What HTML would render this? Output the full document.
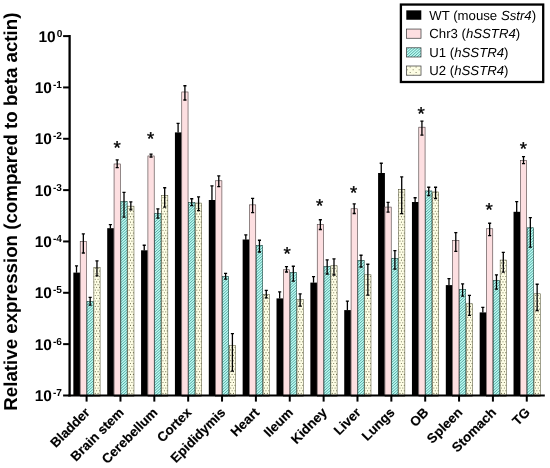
<!DOCTYPE html>
<html><head><meta charset="utf-8"><title>Relative expression</title>
<style>
html,body{margin:0;padding:0;background:#fff;}
body{width:550px;height:468px;overflow:hidden;}
svg{display:block;}
text{font-family:"Liberation Sans",Arial,Helvetica,sans-serif;fill:#000;text-rendering:geometricPrecision;}
.b{font-weight:bold;}
.i{font-style:italic;}
</style></head><body>
<svg width="550" height="468" viewBox="0 0 550 468">
<defs>
<clipPath id="ct"><rect x="406.60" y="47.80" width="14.40" height="9.20"/><rect x="86.74" y="301.30" width="6.82" height="94.70"/><rect x="120.60" y="201.20" width="6.82" height="194.80"/><rect x="154.46" y="213.30" width="6.82" height="182.70"/><rect x="188.32" y="202.20" width="6.82" height="193.80"/><rect x="222.18" y="276.20" width="6.82" height="119.80"/><rect x="256.04" y="245.10" width="6.82" height="150.90"/><rect x="289.90" y="272.10" width="6.82" height="123.90"/><rect x="323.76" y="266.10" width="6.82" height="129.90"/><rect x="357.62" y="260.10" width="6.82" height="135.90"/><rect x="391.48" y="258.10" width="6.82" height="137.90"/><rect x="425.34" y="190.70" width="6.82" height="205.30"/><rect x="459.20" y="289.20" width="6.82" height="106.80"/><rect x="493.06" y="280.20" width="6.82" height="115.80"/><rect x="526.92" y="227.50" width="6.82" height="168.50"/></clipPath>
<clipPath id="cy"><rect x="406.60" y="66.00" width="14.40" height="9.20"/><rect x="93.56" y="267.20" width="6.82" height="128.80"/><rect x="127.42" y="205.90" width="6.82" height="190.10"/><rect x="161.28" y="195.20" width="6.82" height="200.80"/><rect x="195.14" y="202.80" width="6.82" height="193.20"/><rect x="229.00" y="345.20" width="6.82" height="50.80"/><rect x="262.86" y="294.30" width="6.82" height="101.70"/><rect x="296.72" y="299.20" width="6.82" height="96.80"/><rect x="330.58" y="265.50" width="6.82" height="130.50"/><rect x="364.44" y="274.50" width="6.82" height="121.50"/><rect x="398.30" y="189.10" width="6.82" height="206.90"/><rect x="432.16" y="191.70" width="6.82" height="204.30"/><rect x="466.02" y="303.50" width="6.82" height="92.50"/><rect x="499.88" y="259.80" width="6.82" height="136.20"/><rect x="533.74" y="293.50" width="6.82" height="102.50"/></clipPath>
</defs>
<rect width="550" height="468" fill="#fff"/>
<rect x="400.9" y="4.55" width="142.3" height="77.45" fill="#fff" stroke="#000" stroke-width="2.3"/>
<rect x="406.3" y="10.35" width="15" height="9.4" fill="#000"/>
<text x="429.3" y="20.30" font-size="13.2">WT (mouse <tspan class="i">Sstr4</tspan>)</text>
<rect x="406.6" y="29.05" width="14.4" height="9.2" fill="#fddfe1"/>
<text x="429.3" y="38.20" font-size="13.2">Chr3 (<tspan class="i">hSSTR4</tspan>)</text>
<rect x="406.6" y="47.80" width="14.4" height="9.2" fill="#bbfaf4"/>
<text x="429.3" y="56.60" font-size="13.2">U1 (<tspan class="i">hSSTR4</tspan>)</text>
<rect x="406.6" y="66.00" width="14.4" height="9.2" fill="#fdfde4"/>
<text x="429.3" y="75.20" font-size="13.2">U2 (<tspan class="i">hSSTR4</tspan>)</text>
<g>
<rect x="73.35" y="272.60" width="6.82" height="123.20" fill="#000"/>
<rect x="79.92" y="241.10" width="6.82" height="154.90" fill="#fddfe1"/>
<rect x="86.74" y="301.30" width="6.82" height="94.70" fill="#bbfaf4"/>
<rect x="93.56" y="267.20" width="6.82" height="128.80" fill="#fdfde4"/>
<rect x="107.21" y="228.20" width="6.82" height="167.60" fill="#000"/>
<rect x="113.78" y="163.70" width="6.82" height="232.30" fill="#fddfe1"/>
<rect x="120.60" y="201.20" width="6.82" height="194.80" fill="#bbfaf4"/>
<rect x="127.42" y="205.90" width="6.82" height="190.10" fill="#fdfde4"/>
<rect x="141.07" y="250.30" width="6.82" height="145.50" fill="#000"/>
<rect x="147.64" y="155.70" width="6.82" height="240.30" fill="#fddfe1"/>
<rect x="154.46" y="213.30" width="6.82" height="182.70" fill="#bbfaf4"/>
<rect x="161.28" y="195.20" width="6.82" height="200.80" fill="#fdfde4"/>
<rect x="174.93" y="132.40" width="6.82" height="263.40" fill="#000"/>
<rect x="181.50" y="91.70" width="6.82" height="304.30" fill="#fddfe1"/>
<rect x="188.32" y="202.20" width="6.82" height="193.80" fill="#bbfaf4"/>
<rect x="195.14" y="202.80" width="6.82" height="193.20" fill="#fdfde4"/>
<rect x="208.79" y="200.00" width="6.82" height="195.80" fill="#000"/>
<rect x="215.36" y="180.50" width="6.82" height="215.50" fill="#fddfe1"/>
<rect x="222.18" y="276.20" width="6.82" height="119.80" fill="#bbfaf4"/>
<rect x="229.00" y="345.20" width="6.82" height="50.80" fill="#fdfde4"/>
<rect x="242.65" y="239.50" width="6.82" height="156.30" fill="#000"/>
<rect x="249.22" y="204.60" width="6.82" height="191.40" fill="#fddfe1"/>
<rect x="256.04" y="245.10" width="6.82" height="150.90" fill="#bbfaf4"/>
<rect x="262.86" y="294.30" width="6.82" height="101.70" fill="#fdfde4"/>
<rect x="276.51" y="298.40" width="6.82" height="97.40" fill="#000"/>
<rect x="283.08" y="269.50" width="6.82" height="126.50" fill="#fddfe1"/>
<rect x="289.90" y="272.10" width="6.82" height="123.90" fill="#bbfaf4"/>
<rect x="296.72" y="299.20" width="6.82" height="96.80" fill="#fdfde4"/>
<rect x="310.37" y="282.60" width="6.82" height="113.20" fill="#000"/>
<rect x="316.94" y="224.20" width="6.82" height="171.80" fill="#fddfe1"/>
<rect x="323.76" y="266.10" width="6.82" height="129.90" fill="#bbfaf4"/>
<rect x="330.58" y="265.50" width="6.82" height="130.50" fill="#fdfde4"/>
<rect x="344.23" y="310.10" width="6.82" height="85.70" fill="#000"/>
<rect x="350.80" y="208.50" width="6.82" height="187.50" fill="#fddfe1"/>
<rect x="357.62" y="260.10" width="6.82" height="135.90" fill="#bbfaf4"/>
<rect x="364.44" y="274.50" width="6.82" height="121.50" fill="#fdfde4"/>
<rect x="378.09" y="173.00" width="6.82" height="222.80" fill="#000"/>
<rect x="384.66" y="206.80" width="6.82" height="189.20" fill="#fddfe1"/>
<rect x="391.48" y="258.10" width="6.82" height="137.90" fill="#bbfaf4"/>
<rect x="398.30" y="189.10" width="6.82" height="206.90" fill="#fdfde4"/>
<rect x="411.95" y="202.00" width="6.82" height="193.80" fill="#000"/>
<rect x="418.52" y="126.90" width="6.82" height="269.10" fill="#fddfe1"/>
<rect x="425.34" y="190.70" width="6.82" height="205.30" fill="#bbfaf4"/>
<rect x="432.16" y="191.70" width="6.82" height="204.30" fill="#fdfde4"/>
<rect x="445.81" y="285.10" width="6.82" height="110.70" fill="#000"/>
<rect x="452.38" y="240.00" width="6.82" height="156.00" fill="#fddfe1"/>
<rect x="459.20" y="289.20" width="6.82" height="106.80" fill="#bbfaf4"/>
<rect x="466.02" y="303.50" width="6.82" height="92.50" fill="#fdfde4"/>
<rect x="479.67" y="312.40" width="6.82" height="83.40" fill="#000"/>
<rect x="486.24" y="228.50" width="6.82" height="167.50" fill="#fddfe1"/>
<rect x="493.06" y="280.20" width="6.82" height="115.80" fill="#bbfaf4"/>
<rect x="499.88" y="259.80" width="6.82" height="136.20" fill="#fdfde4"/>
<rect x="513.53" y="211.80" width="6.82" height="184.00" fill="#000"/>
<rect x="520.10" y="160.10" width="6.82" height="235.90" fill="#fddfe1"/>
<rect x="526.92" y="227.50" width="6.82" height="168.50" fill="#bbfaf4"/>
<rect x="533.74" y="293.50" width="6.82" height="102.50" fill="#fdfde4"/>
</g>
<path clip-path="url(#ct)" d="M60 0.1L550 -440.9M60 2.8L550 -438.2M60 5.5L550 -435.5M60 8.2L550 -432.8M60 11.0L550 -430.0M60 13.7L550 -427.3M60 16.4L550 -424.6M60 19.1L550 -421.9M60 21.8L550 -419.2M60 24.6L550 -416.4M60 27.3L550 -413.7M60 30.0L550 -411.0M60 32.7L550 -408.3M60 35.4L550 -405.6M60 38.2L550 -402.8M60 40.9L550 -400.1M60 43.6L550 -397.4M60 46.3L550 -394.7M60 49.0L550 -392.0M60 51.8L550 -389.2M60 54.5L550 -386.5M60 57.2L550 -383.8M60 59.9L550 -381.1M60 62.6L550 -378.4M60 65.4L550 -375.6M60 68.1L550 -372.9M60 70.8L550 -370.2M60 73.5L550 -367.5M60 76.2L550 -364.8M60 79.0L550 -362.0M60 81.7L550 -359.3M60 84.4L550 -356.6M60 87.1L550 -353.9M60 89.8L550 -351.2M60 92.6L550 -348.4M60 95.3L550 -345.7M60 98.0L550 -343.0M60 100.7L550 -340.3M60 103.4L550 -337.6M60 106.2L550 -334.8M60 108.9L550 -332.1M60 111.6L550 -329.4M60 114.3L550 -326.7M60 117.0L550 -324.0M60 119.8L550 -321.2M60 122.5L550 -318.5M60 125.2L550 -315.8M60 127.9L550 -313.1M60 130.6L550 -310.4M60 133.4L550 -307.6M60 136.1L550 -304.9M60 138.8L550 -302.2M60 141.5L550 -299.5M60 144.2L550 -296.8M60 147.0L550 -294.0M60 149.7L550 -291.3M60 152.4L550 -288.6M60 155.1L550 -285.9M60 157.8L550 -283.2M60 160.6L550 -280.4M60 163.3L550 -277.7M60 166.0L550 -275.0M60 168.7L550 -272.3M60 171.4L550 -269.6M60 174.2L550 -266.8M60 176.9L550 -264.1M60 179.6L550 -261.4M60 182.3L550 -258.7M60 185.0L550 -256.0M60 187.8L550 -253.2M60 190.5L550 -250.5M60 193.2L550 -247.8M60 195.9L550 -245.1M60 198.6L550 -242.4M60 201.4L550 -239.6M60 204.1L550 -236.9M60 206.8L550 -234.2M60 209.5L550 -231.5M60 212.2L550 -228.8M60 215.0L550 -226.0M60 217.7L550 -223.3M60 220.4L550 -220.6M60 223.1L550 -217.9M60 225.8L550 -215.2M60 228.6L550 -212.4M60 231.3L550 -209.7M60 234.0L550 -207.0M60 236.7L550 -204.3M60 239.4L550 -201.6M60 242.2L550 -198.8M60 244.9L550 -196.1M60 247.6L550 -193.4M60 250.3L550 -190.7M60 253.0L550 -188.0M60 255.8L550 -185.2M60 258.5L550 -182.5M60 261.2L550 -179.8M60 263.9L550 -177.1M60 266.6L550 -174.4M60 269.4L550 -171.6M60 272.1L550 -168.9M60 274.8L550 -166.2M60 277.5L550 -163.5M60 280.2L550 -160.8M60 283.0L550 -158.0M60 285.7L550 -155.3M60 288.4L550 -152.6M60 291.1L550 -149.9M60 293.8L550 -147.2M60 296.6L550 -144.4M60 299.3L550 -141.7M60 302.0L550 -139.0M60 304.7L550 -136.3M60 307.4L550 -133.6M60 310.2L550 -130.8M60 312.9L550 -128.1M60 315.6L550 -125.4M60 318.3L550 -122.7M60 321.0L550 -120.0M60 323.8L550 -117.2M60 326.5L550 -114.5M60 329.2L550 -111.8M60 331.9L550 -109.1M60 334.6L550 -106.4M60 337.4L550 -103.6M60 340.1L550 -100.9M60 342.8L550 -98.2M60 345.5L550 -95.5M60 348.2L550 -92.8M60 351.0L550 -90.0M60 353.7L550 -87.3M60 356.4L550 -84.6M60 359.1L550 -81.9M60 361.8L550 -79.2M60 364.6L550 -76.4M60 367.3L550 -73.7M60 370.0L550 -71.0M60 372.7L550 -68.3M60 375.4L550 -65.6M60 378.2L550 -62.8M60 380.9L550 -60.1M60 383.6L550 -57.4M60 386.3L550 -54.7M60 389.0L550 -52.0M60 391.8L550 -49.2M60 394.5L550 -46.5M60 397.2L550 -43.8M60 399.9L550 -41.1M60 402.6L550 -38.4M60 405.4L550 -35.6M60 408.1L550 -32.9M60 410.8L550 -30.2M60 413.5L550 -27.5M60 416.2L550 -24.8M60 419.0L550 -22.0M60 421.7L550 -19.3M60 424.4L550 -16.6M60 427.1L550 -13.9M60 429.8L550 -11.2M60 432.6L550 -8.4M60 435.3L550 -5.7M60 438.0L550 -3.0M60 440.7L550 -0.3M60 443.4L550 2.4M60 446.2L550 5.2M60 448.9L550 7.9M60 451.6L550 10.6M60 454.3L550 13.3M60 457.0L550 16.0M60 459.8L550 18.8M60 462.5L550 21.5M60 465.2L550 24.2M60 467.9L550 26.9M60 470.6L550 29.6M60 473.4L550 32.4M60 476.1L550 35.1M60 478.8L550 37.8M60 481.5L550 40.5M60 484.2L550 43.2M60 487.0L550 46.0M60 489.7L550 48.7M60 492.4L550 51.4M60 495.1L550 54.1M60 497.8L550 56.8M60 500.6L550 59.6M60 503.3L550 62.3M60 506.0L550 65.0M60 508.7L550 67.7M60 511.4L550 70.4M60 514.2L550 73.2M60 516.9L550 75.9M60 519.6L550 78.6M60 522.3L550 81.3M60 525.0L550 84.0M60 527.8L550 86.8M60 530.5L550 89.5M60 533.2L550 92.2M60 535.9L550 94.9M60 538.6L550 97.6M60 541.4L550 100.4M60 544.1L550 103.1M60 546.8L550 105.8M60 549.5L550 108.5M60 552.2L550 111.2M60 555.0L550 114.0M60 557.7L550 116.7M60 560.4L550 119.4M60 563.1L550 122.1M60 565.8L550 124.8M60 568.6L550 127.6M60 571.3L550 130.3M60 574.0L550 133.0M60 576.7L550 135.7M60 579.4L550 138.4M60 582.2L550 141.2M60 584.9L550 143.9M60 587.6L550 146.6M60 590.3L550 149.3M60 593.0L550 152.0M60 595.8L550 154.8M60 598.5L550 157.5M60 601.2L550 160.2M60 603.9L550 162.9M60 606.6L550 165.6M60 609.4L550 168.4M60 612.1L550 171.1M60 614.8L550 173.8M60 617.5L550 176.5M60 620.2L550 179.2M60 623.0L550 182.0M60 625.7L550 184.7M60 628.4L550 187.4M60 631.1L550 190.1M60 633.8L550 192.8M60 636.6L550 195.6M60 639.3L550 198.3M60 642.0L550 201.0M60 644.7L550 203.7M60 647.4L550 206.4M60 650.2L550 209.2M60 652.9L550 211.9M60 655.6L550 214.6M60 658.3L550 217.3M60 661.0L550 220.0M60 663.8L550 222.8M60 666.5L550 225.5M60 669.2L550 228.2M60 671.9L550 230.9M60 674.6L550 233.6M60 677.4L550 236.4M60 680.1L550 239.1M60 682.8L550 241.8M60 685.5L550 244.5M60 688.2L550 247.2M60 691.0L550 250.0M60 693.7L550 252.7M60 696.4L550 255.4M60 699.1L550 258.1M60 701.8L550 260.8M60 704.6L550 263.6M60 707.3L550 266.3M60 710.0L550 269.0M60 712.7L550 271.7M60 715.4L550 274.4M60 718.2L550 277.2M60 720.9L550 279.9M60 723.6L550 282.6M60 726.3L550 285.3M60 729.0L550 288.0M60 731.8L550 290.8M60 734.5L550 293.5M60 737.2L550 296.2M60 739.9L550 298.9M60 742.6L550 301.6M60 745.4L550 304.4M60 748.1L550 307.1M60 750.8L550 309.8M60 753.5L550 312.5M60 756.2L550 315.2M60 759.0L550 318.0M60 761.7L550 320.7M60 764.4L550 323.4M60 767.1L550 326.1M60 769.8L550 328.8M60 772.6L550 331.6M60 775.3L550 334.3M60 778.0L550 337.0M60 780.7L550 339.7M60 783.4L550 342.4M60 786.2L550 345.2M60 788.9L550 347.9M60 791.6L550 350.6M60 794.3L550 353.3M60 797.0L550 356.0M60 799.8L550 358.8M60 802.5L550 361.5M60 805.2L550 364.2M60 807.9L550 366.9M60 810.6L550 369.6M60 813.4L550 372.4M60 816.1L550 375.1M60 818.8L550 377.8M60 821.5L550 380.5M60 824.2L550 383.2M60 827.0L550 386.0M60 829.7L550 388.7M60 832.4L550 391.4M60 835.1L550 394.1M60 837.8L550 396.8M60 840.6L550 399.6" stroke="#3f978b" stroke-width="0.8" fill="none"/>
<g clip-path="url(#cy)" stroke="#6e6e50" stroke-width="1.12" stroke-linecap="round" stroke-dasharray="0.01 5.43" fill="none">
<path d="M407.23 64.31V81.2"/>
<path d="M413.15 64.31V81.2"/>
<path d="M419.16 64.31V81.2"/>
<path d="M410.19 67.03V81.2"/>
<path d="M416.10 67.03V81.2"/>
<path d="M93.86 265.59V402.0"/>
<path d="M96.66 265.59V402.0"/>
<path d="M99.51 265.59V402.0"/>
<path d="M95.26 268.31V402.0"/>
<path d="M98.06 268.31V402.0"/>
<path d="M127.72 205.75V402.0"/>
<path d="M130.52 205.75V402.0"/>
<path d="M133.37 205.75V402.0"/>
<path d="M129.12 208.47V402.0"/>
<path d="M131.92 208.47V402.0"/>
<path d="M161.58 194.87V402.0"/>
<path d="M164.38 194.87V402.0"/>
<path d="M167.23 194.87V402.0"/>
<path d="M162.98 197.59V402.0"/>
<path d="M165.78 197.59V402.0"/>
<path d="M195.44 200.31V402.0"/>
<path d="M198.24 200.31V402.0"/>
<path d="M201.09 200.31V402.0"/>
<path d="M196.84 203.03V402.0"/>
<path d="M199.64 203.03V402.0"/>
<path d="M229.30 341.75V402.0"/>
<path d="M232.10 341.75V402.0"/>
<path d="M234.95 341.75V402.0"/>
<path d="M230.70 344.47V402.0"/>
<path d="M233.50 344.47V402.0"/>
<path d="M263.16 292.79V402.0"/>
<path d="M265.96 292.79V402.0"/>
<path d="M268.81 292.79V402.0"/>
<path d="M264.56 295.51V402.0"/>
<path d="M267.36 295.51V402.0"/>
<path d="M297.02 298.23V402.0"/>
<path d="M299.82 298.23V402.0"/>
<path d="M302.67 298.23V402.0"/>
<path d="M298.42 300.95V402.0"/>
<path d="M301.22 300.95V402.0"/>
<path d="M330.88 260.15V402.0"/>
<path d="M333.68 260.15V402.0"/>
<path d="M336.53 260.15V402.0"/>
<path d="M332.28 262.87V402.0"/>
<path d="M335.08 262.87V402.0"/>
<path d="M364.74 271.03V402.0"/>
<path d="M367.54 271.03V402.0"/>
<path d="M370.39 271.03V402.0"/>
<path d="M366.14 273.75V402.0"/>
<path d="M368.94 273.75V402.0"/>
<path d="M398.60 183.99V402.0"/>
<path d="M401.40 183.99V402.0"/>
<path d="M404.25 183.99V402.0"/>
<path d="M400.00 186.71V402.0"/>
<path d="M402.80 186.71V402.0"/>
<path d="M432.46 189.43V402.0"/>
<path d="M435.26 189.43V402.0"/>
<path d="M438.11 189.43V402.0"/>
<path d="M433.86 192.15V402.0"/>
<path d="M436.66 192.15V402.0"/>
<path d="M466.32 298.23V402.0"/>
<path d="M469.12 298.23V402.0"/>
<path d="M471.97 298.23V402.0"/>
<path d="M467.72 300.95V402.0"/>
<path d="M470.52 300.95V402.0"/>
<path d="M500.18 254.71V402.0"/>
<path d="M502.98 254.71V402.0"/>
<path d="M505.83 254.71V402.0"/>
<path d="M501.58 257.43V402.0"/>
<path d="M504.38 257.43V402.0"/>
<path d="M534.04 292.79V402.0"/>
<path d="M536.84 292.79V402.0"/>
<path d="M539.69 292.79V402.0"/>
<path d="M535.44 295.51V402.0"/>
<path d="M538.24 295.51V402.0"/>
</g>
<g fill="none" stroke-width="0.55">
<rect x="80.20" y="241.38" width="6.26" height="154.90" stroke="#3a3636"/>
<rect x="87.02" y="301.58" width="6.26" height="94.70" stroke="#1f3a36"/>
<rect x="93.84" y="267.48" width="6.26" height="128.80" stroke="#55553f"/>
<rect x="114.06" y="163.98" width="6.26" height="232.30" stroke="#3a3636"/>
<rect x="120.88" y="201.48" width="6.26" height="194.80" stroke="#1f3a36"/>
<rect x="127.70" y="206.18" width="6.26" height="190.10" stroke="#55553f"/>
<rect x="147.92" y="155.98" width="6.26" height="240.30" stroke="#3a3636"/>
<rect x="154.74" y="213.58" width="6.26" height="182.70" stroke="#1f3a36"/>
<rect x="161.56" y="195.48" width="6.26" height="200.80" stroke="#55553f"/>
<rect x="181.78" y="91.98" width="6.26" height="304.30" stroke="#3a3636"/>
<rect x="188.60" y="202.48" width="6.26" height="193.80" stroke="#1f3a36"/>
<rect x="195.42" y="203.08" width="6.26" height="193.20" stroke="#55553f"/>
<rect x="215.64" y="180.78" width="6.26" height="215.50" stroke="#3a3636"/>
<rect x="222.46" y="276.48" width="6.26" height="119.80" stroke="#1f3a36"/>
<rect x="229.28" y="345.48" width="6.26" height="50.80" stroke="#55553f"/>
<rect x="249.50" y="204.88" width="6.26" height="191.40" stroke="#3a3636"/>
<rect x="256.32" y="245.38" width="6.26" height="150.90" stroke="#1f3a36"/>
<rect x="263.14" y="294.58" width="6.26" height="101.70" stroke="#55553f"/>
<rect x="283.36" y="269.78" width="6.26" height="126.50" stroke="#3a3636"/>
<rect x="290.18" y="272.38" width="6.26" height="123.90" stroke="#1f3a36"/>
<rect x="297.00" y="299.48" width="6.26" height="96.80" stroke="#55553f"/>
<rect x="317.22" y="224.48" width="6.26" height="171.80" stroke="#3a3636"/>
<rect x="324.04" y="266.38" width="6.26" height="129.90" stroke="#1f3a36"/>
<rect x="330.86" y="265.78" width="6.26" height="130.50" stroke="#55553f"/>
<rect x="351.08" y="208.78" width="6.26" height="187.50" stroke="#3a3636"/>
<rect x="357.90" y="260.38" width="6.26" height="135.90" stroke="#1f3a36"/>
<rect x="364.72" y="274.78" width="6.26" height="121.50" stroke="#55553f"/>
<rect x="384.94" y="207.08" width="6.26" height="189.20" stroke="#3a3636"/>
<rect x="391.76" y="258.38" width="6.26" height="137.90" stroke="#1f3a36"/>
<rect x="398.58" y="189.38" width="6.26" height="206.90" stroke="#55553f"/>
<rect x="418.80" y="127.18" width="6.26" height="269.10" stroke="#3a3636"/>
<rect x="425.62" y="190.98" width="6.26" height="205.30" stroke="#1f3a36"/>
<rect x="432.44" y="191.98" width="6.26" height="204.30" stroke="#55553f"/>
<rect x="452.66" y="240.28" width="6.26" height="156.00" stroke="#3a3636"/>
<rect x="459.48" y="289.48" width="6.26" height="106.80" stroke="#1f3a36"/>
<rect x="466.30" y="303.78" width="6.26" height="92.50" stroke="#55553f"/>
<rect x="486.52" y="228.78" width="6.26" height="167.50" stroke="#3a3636"/>
<rect x="493.34" y="280.48" width="6.26" height="115.80" stroke="#1f3a36"/>
<rect x="500.16" y="260.08" width="6.26" height="136.20" stroke="#55553f"/>
<rect x="520.38" y="160.38" width="6.26" height="235.90" stroke="#3a3636"/>
<rect x="527.20" y="227.78" width="6.26" height="168.50" stroke="#1f3a36"/>
<rect x="534.02" y="293.78" width="6.26" height="102.50" stroke="#55553f"/>
<rect x="406.6" y="29.05" width="14.4" height="9.2" stroke="#333" stroke-width="0.7"/>
<rect x="406.6" y="47.80" width="14.4" height="9.2" stroke="#333" stroke-width="0.7"/>
<rect x="406.6" y="66.00" width="14.4" height="9.2" stroke="#333" stroke-width="0.7"/>
</g>
<g stroke="#000" stroke-width="1.3" fill="none">
<path d="M76.51 265.95V272.80M74.96 265.95H78.06"/>
<path d="M83.33 233.85V253.00M81.78 233.85H84.88M81.78 253.00H84.88"/>
<path d="M90.15 297.45V305.20M88.60 297.45H91.70M88.60 305.20H91.70"/>
<path d="M96.97 260.95V275.90M95.42 260.95H98.52M95.42 275.90H98.52"/>
<path d="M110.37 224.55V228.40M108.82 224.55H111.92"/>
<path d="M117.19 159.85V167.60M115.64 159.85H118.74M115.64 167.60H118.74"/>
<path d="M124.01 192.35V217.20M122.46 192.35H125.56M122.46 217.20H125.56"/>
<path d="M130.83 201.95V209.80M129.28 201.95H132.38M129.28 209.80H132.38"/>
<path d="M144.23 245.25V250.50M142.68 245.25H145.78"/>
<path d="M151.05 154.15V157.10M149.50 154.15H152.60M149.50 157.10H152.60"/>
<path d="M157.87 208.85V218.20M156.32 208.85H159.42M156.32 218.20H159.42"/>
<path d="M164.69 187.75V207.20M163.14 187.75H166.24M163.14 207.20H166.24"/>
<path d="M178.09 123.35V132.60M176.54 123.35H179.64"/>
<path d="M184.91 85.75V100.00M183.36 85.75H186.46M183.36 100.00H186.46"/>
<path d="M191.73 198.75V205.70M190.18 198.75H193.28M190.18 205.70H193.28"/>
<path d="M198.55 196.85V210.70M197.00 196.85H200.10M197.00 210.70H200.10"/>
<path d="M211.95 185.85V200.20M210.40 185.85H213.50"/>
<path d="M218.77 175.85V186.60M217.22 175.85H220.32M217.22 186.60H220.32"/>
<path d="M225.59 273.35V279.10M224.04 273.35H227.14M224.04 279.10H227.14"/>
<path d="M232.41 333.65V371.20M230.86 333.65H233.96M230.86 371.20H233.96"/>
<path d="M245.81 234.85V239.70M244.26 234.85H247.36"/>
<path d="M252.63 198.35V212.70M251.08 198.35H254.18M251.08 212.70H254.18"/>
<path d="M259.45 240.25V252.00M257.90 240.25H261.00M257.90 252.00H261.00"/>
<path d="M266.27 290.45V297.80M264.72 290.45H267.82M264.72 297.80H267.82"/>
<path d="M279.67 291.95V298.60M278.12 291.95H281.22"/>
<path d="M286.49 266.65V272.00M284.94 266.65H288.04M284.94 272.00H288.04"/>
<path d="M293.31 266.25V281.10M291.76 266.25H294.86M291.76 281.10H294.86"/>
<path d="M300.13 293.95V306.20M298.58 293.95H301.68M298.58 306.20H301.68"/>
<path d="M313.53 276.65V282.80M311.98 276.65H315.08"/>
<path d="M320.35 219.75V229.50M318.80 219.75H321.90M318.80 229.50H321.90"/>
<path d="M327.17 259.85V274.00M325.62 259.85H328.72M325.62 274.00H328.72"/>
<path d="M333.99 258.85V275.00M332.44 258.85H335.54M332.44 275.00H335.54"/>
<path d="M347.39 301.15V310.30M345.84 301.15H348.94"/>
<path d="M354.21 203.85V213.50M352.66 203.85H355.76M352.66 213.50H355.76"/>
<path d="M361.03 255.25V267.00M359.48 255.25H362.58M359.48 267.00H362.58"/>
<path d="M367.85 264.25V295.10M366.30 264.25H369.40M366.30 295.10H369.40"/>
<path d="M381.25 163.25V173.20M379.70 163.25H382.80"/>
<path d="M388.07 202.35V212.10M386.52 202.35H389.62M386.52 212.10H389.62"/>
<path d="M394.89 250.65V269.10M393.34 250.65H396.44M393.34 269.10H396.44"/>
<path d="M401.71 176.95V213.70M400.16 176.95H403.26M400.16 213.70H403.26"/>
<path d="M415.11 197.75V202.20M413.56 197.75H416.66"/>
<path d="M421.93 121.05V135.10M420.38 121.05H423.48M420.38 135.10H423.48"/>
<path d="M428.75 187.25V195.70M427.20 187.25H430.30M427.20 195.70H430.30"/>
<path d="M435.57 187.25V198.60M434.02 187.25H437.12M434.02 198.60H437.12"/>
<path d="M448.97 278.55V285.30M447.42 278.55H450.52"/>
<path d="M455.79 232.55V251.40M454.24 232.55H457.34M454.24 251.40H457.34"/>
<path d="M462.61 283.95V296.20M461.06 283.95H464.16M461.06 296.20H464.16"/>
<path d="M469.43 295.45V315.40M467.88 295.45H470.98M467.88 315.40H470.98"/>
<path d="M482.83 307.35V312.60M481.28 307.35H484.38"/>
<path d="M489.65 223.25V235.60M488.10 223.25H491.20M488.10 235.60H491.20"/>
<path d="M496.47 274.85V289.10M494.92 274.85H498.02M494.92 289.10H498.02"/>
<path d="M503.29 252.35V272.20M501.74 252.35H504.84M501.74 272.20H504.84"/>
<path d="M516.69 201.65V212.00M515.14 201.65H518.24"/>
<path d="M523.51 156.65V163.60M521.96 156.65H525.06M521.96 163.60H525.06"/>
<path d="M530.33 217.65V247.10M528.78 217.65H531.88M528.78 247.10H531.88"/>
<path d="M537.15 284.25V310.50M535.60 284.25H538.70M535.60 310.50H538.70"/>
</g>
<g stroke="#000" stroke-width="2" fill="none">
<path d="M69.6 35.1V396.6" stroke-width="2.3"/>
<path d="M68.5 395.6H544.8"/>
<path d="M63.1 36.10H69"/>
<path d="M63.1 87.44H69"/>
<path d="M63.1 138.78H69"/>
<path d="M63.1 190.12H69"/>
<path d="M63.1 241.46H69"/>
<path d="M63.1 292.80H69"/>
<path d="M63.1 344.14H69"/>
<path d="M63.1 395.48H69"/>
<path d="M86.60 396V401.6"/>
<path d="M120.46 396V401.6"/>
<path d="M154.32 396V401.6"/>
<path d="M188.18 396V401.6"/>
<path d="M222.04 396V401.6"/>
<path d="M255.90 396V401.6"/>
<path d="M289.76 396V401.6"/>
<path d="M323.62 396V401.6"/>
<path d="M357.48 396V401.6"/>
<path d="M391.34 396V401.6"/>
<path d="M425.20 396V401.6"/>
<path d="M459.06 396V401.6"/>
<path d="M492.92 396V401.6"/>
<path d="M526.78 396V401.6"/>
</g>
<g class="b">
<text x="38.4" y="41.50" font-size="15.5">10<tspan font-size="10.1" dx="1.0" dy="-4.9">0</tspan></text>
<text x="34.7" y="92.84" font-size="15.5">10<tspan font-size="10.1" dx="1.0" dy="-4.9">-1</tspan></text>
<text x="34.7" y="144.18" font-size="15.5">10<tspan font-size="10.1" dx="1.0" dy="-4.9">-2</tspan></text>
<text x="34.7" y="195.52" font-size="15.5">10<tspan font-size="10.1" dx="1.0" dy="-4.9">-3</tspan></text>
<text x="34.7" y="246.86" font-size="15.5">10<tspan font-size="10.1" dx="1.0" dy="-4.9">-4</tspan></text>
<text x="34.7" y="298.20" font-size="15.5">10<tspan font-size="10.1" dx="1.0" dy="-4.9">-5</tspan></text>
<text x="34.7" y="349.54" font-size="15.5">10<tspan font-size="10.1" dx="1.0" dy="-4.9">-6</tspan></text>
<text x="34.7" y="400.88" font-size="15.5">10<tspan font-size="10.1" dx="1.0" dy="-4.9">-7</tspan></text>
</g>
<g class="b" font-size="13.3" stroke="#000" stroke-width="0.15">
<text transform="translate(90.75 413.3) rotate(-45)" text-anchor="end">Bladder</text>
<text transform="translate(124.61 413.3) rotate(-45)" text-anchor="end">Brain stem</text>
<text transform="translate(158.47 413.3) rotate(-45)" text-anchor="end">Cerebellum</text>
<text transform="translate(192.33 413.3) rotate(-45)" text-anchor="end">Cortex</text>
<text transform="translate(226.19 413.3) rotate(-45)" text-anchor="end">Epididymis</text>
<text transform="translate(260.05 413.3) rotate(-45)" text-anchor="end">Heart</text>
<text transform="translate(293.91 413.3) rotate(-45)" text-anchor="end">Ileum</text>
<text transform="translate(327.77 413.3) rotate(-45)" text-anchor="end">Kidney</text>
<text transform="translate(361.63 413.3) rotate(-45)" text-anchor="end">Liver</text>
<text transform="translate(395.49 413.3) rotate(-45)" text-anchor="end">Lungs</text>
<text transform="translate(429.35 413.3) rotate(-45)" text-anchor="end">OB</text>
<text transform="translate(463.21 413.3) rotate(-45)" text-anchor="end">Spleen</text>
<text transform="translate(497.07 413.3) rotate(-45)" text-anchor="end">Stomach</text>
<text transform="translate(530.93 413.3) rotate(-45)" text-anchor="end">TG</text>
</g>
<text class="b" font-size="18.72" text-anchor="middle" transform="translate(17.3 211.6) rotate(-90)">Relative expression (compared to beta actin)</text>
<g font-size="18.6" text-anchor="middle" stroke="#000" stroke-width="0.35">
<text x="117.04" y="154.10">*</text>
<text x="150.70" y="145.10">*</text>
<text x="287.14" y="260.00">*</text>
<text x="319.60" y="212.40">*</text>
<text x="353.61" y="199.10">*</text>
<text x="421.13" y="119.80">*</text>
<text x="489.20" y="216.40">*</text>
<text x="523.31" y="154.50">*</text>
</g>
</svg></body></html>
